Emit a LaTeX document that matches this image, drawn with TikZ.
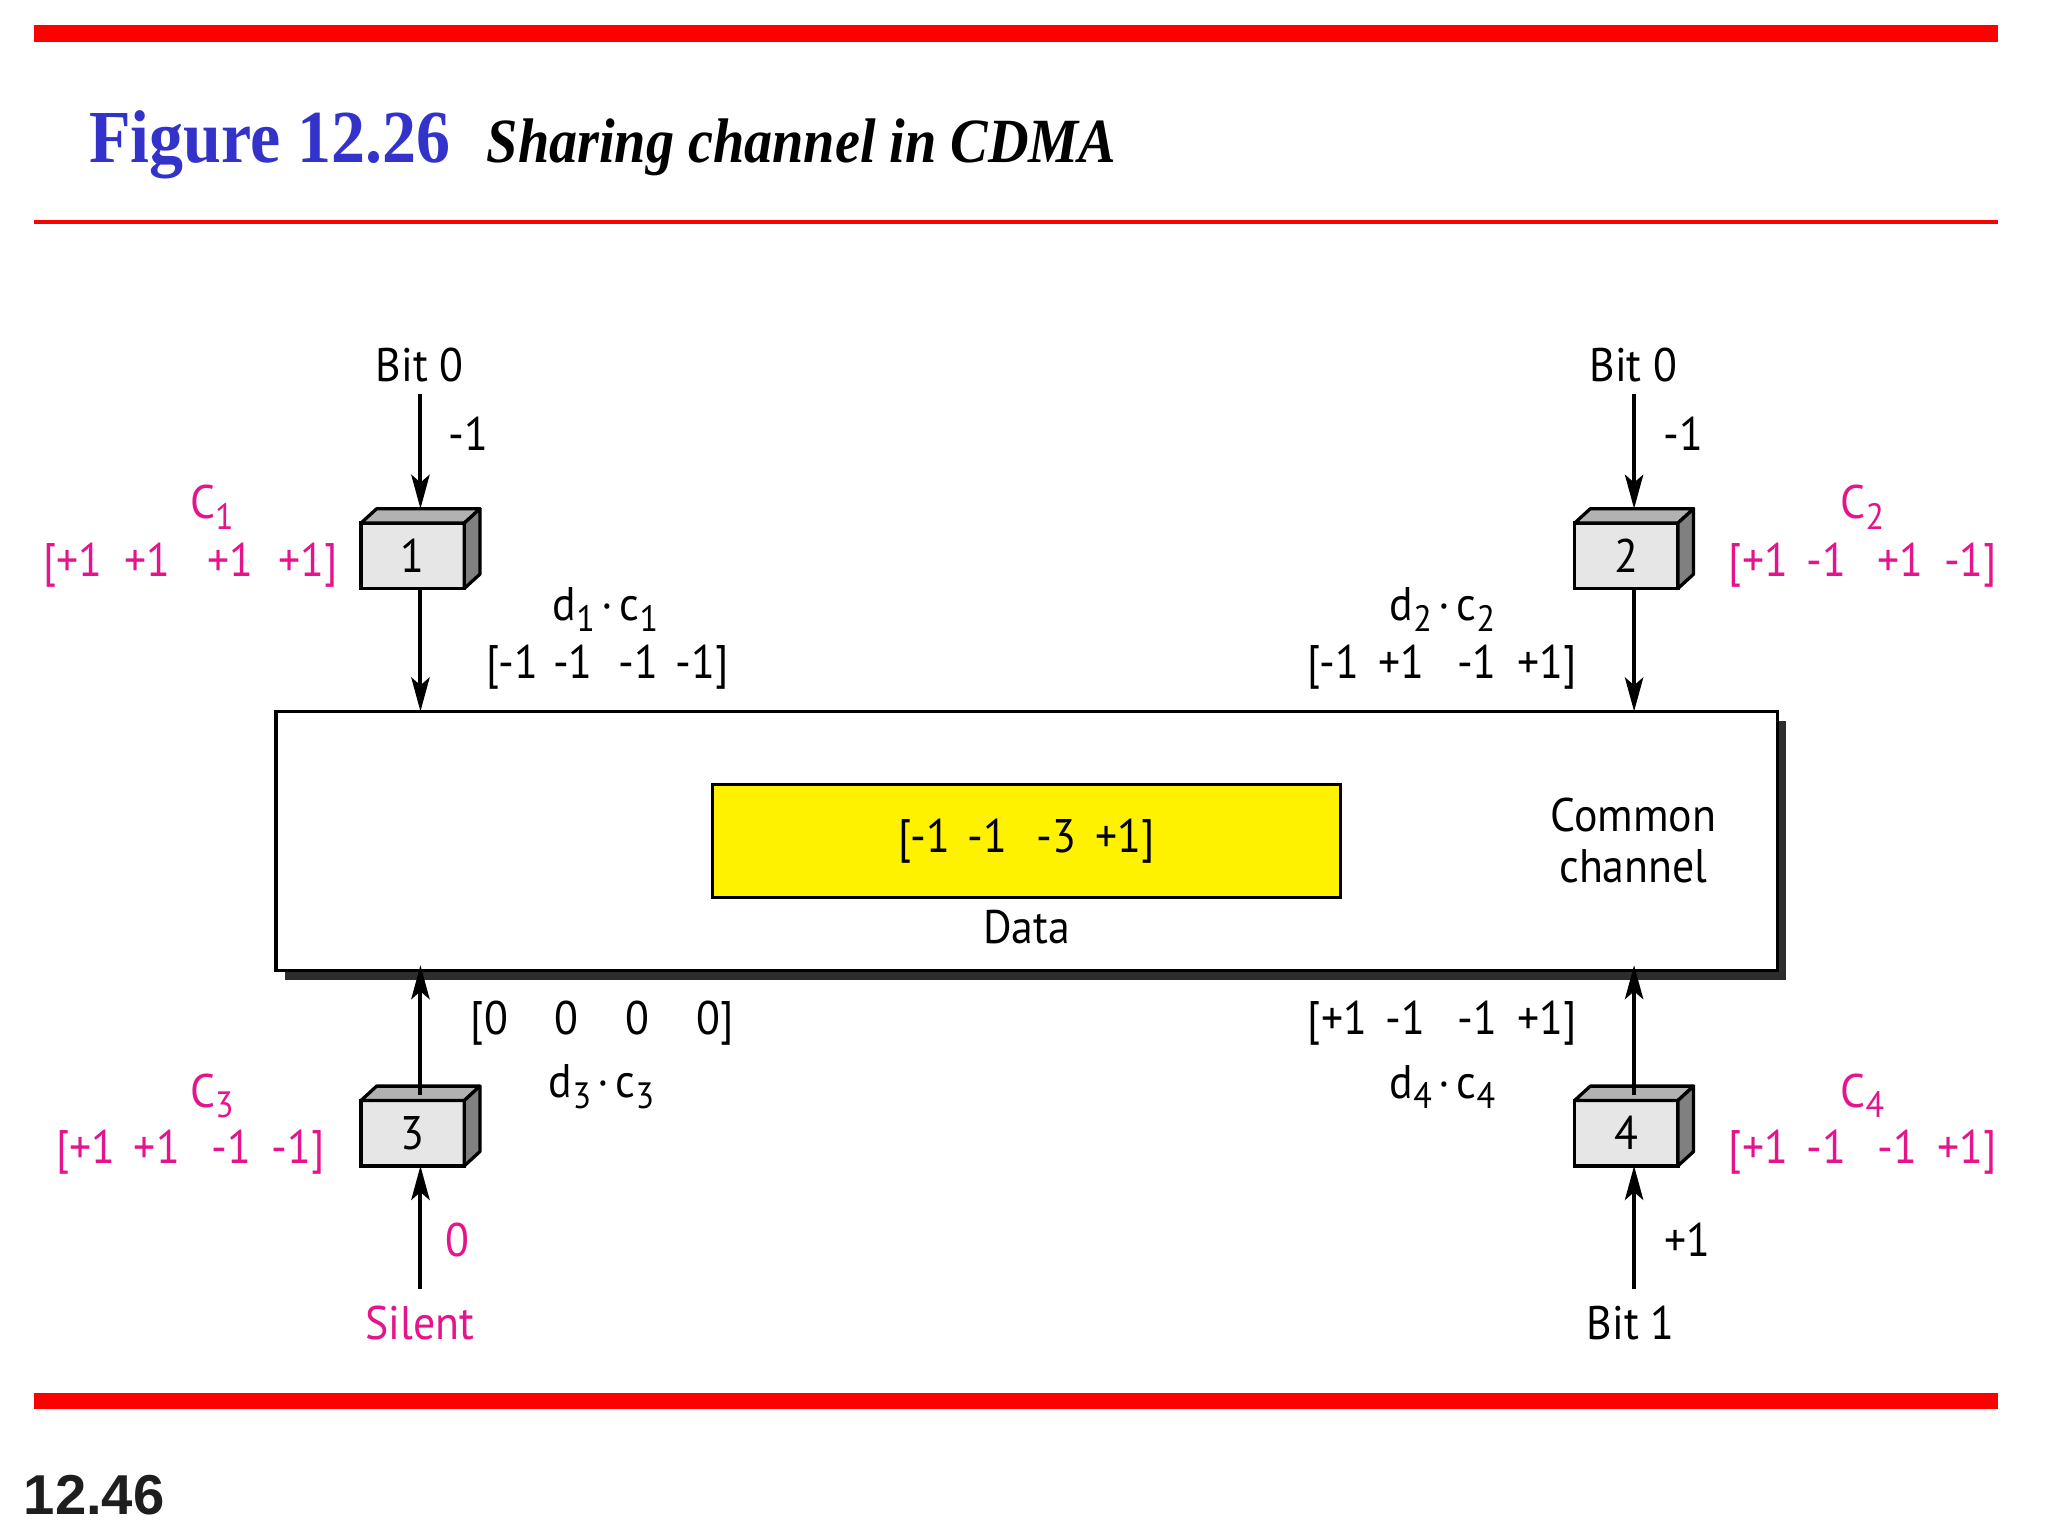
\documentclass[tikz,border=0pt]{standalone}
\usepackage{fontspec}
\usepackage{graphicx}
\setmainfont{PT Sans}[FakeStretch=0.93]
\newfontfamily\serifb{Liberation Serif}
\newfontfamily\arialb{Liberation Sans}
\usetikzlibrary{arrows.meta,calc}
\definecolor{pinkc}{RGB}{230,20,140}
\definecolor{figblue}{RGB}{51,51,204}
\definecolor{frontgray}{RGB}{230,230,230}
\definecolor{topgray}{RGB}{178,178,178}
\definecolor{sidegray}{RGB}{128,128,128}
\definecolor{shadowc}{RGB}{45,45,45}
\newcommand\dn[1]{\raisebox{-8pt}{\fontsize{28}{28}\selectfont #1}}
% vector of four entries stretched to a given width
\newcommand\vq[5]{\makebox[#1][s]{[#2\hspace{0pt plus 1fil}#3\hspace{0pt plus 1.7fil}#4\hspace{0pt plus 1.1fil}#5]}}
\newcommand\vz[1]{\makebox[#1][s]{[0\hspace{0pt plus 1fil}0\hspace{0pt plus 1fil}0\hspace{0pt plus 1fil}0]}}
\newcommand\dc[1]{d\dn{#1}\hspace{5pt}·\hspace{5pt}c\dn{#1}}
\begin{document}
\begin{tikzpicture}[x=1pt,y=-1pt,
  lbl/.style={font=\fontsize{36}{39}\selectfont, inner sep=0pt, outer sep=0pt},
  pk/.style={lbl, text=pinkc},
  arr/.style={line width=3pt, -{Stealth[length=26pt,width=14pt,inset=6pt]}},
  front/.style={draw, line width=2.5pt, fill=frontgray, minimum width=79pt, minimum height=50pt, inner sep=0pt, outer sep=0pt, font=\fontsize{36}{39}\selectfont},
  face/.style={draw, line width=2.5pt, line join=round}
]
\useasboundingbox[fill=white] (0,0) rectangle (1566,1174.5);
% red rules
\fill[red] (26,19) rectangle (1528,32);
\fill[red] (26,168) rectangle (1528,171);
\fill[red] (26,1065) rectangle (1528,1077);
% title
\node[anchor=base west, inner sep=0pt] (fig) at (68,124) {\scalebox{1}[1.1]{\fontsize{52}{60}\selectfont\serifb\bfseries\color{figblue}Figure 12.26}};
\node[anchor=base west, inner sep=0pt] (ttl) at (372,124) {\scalebox{1}[1.12]{\fontsize{43}{50}\selectfont\serifb\bfseries\itshape Sharing channel in CDMA}};
\node[anchor=base west, inner sep=0pt] (pg) at (18,1158) {\fontsize{43}{50}\selectfont\arialb\bfseries\color[RGB]{30,30,30}12.46};
% common channel
\fill[shadowc] (218,551) rectangle (1366,749);
\node[draw, line width=2.5pt, fill=white, minimum width=1148pt, minimum height=198pt, inner sep=0pt, outer sep=0pt] (ch) at (785,643) {};
\node[draw, line width=2.5pt, fill=yellow, minimum width=480pt, minimum height=86pt, lbl] (data) at (785,643) {\vq{196pt}{-1}{-1}{-3}{+1}};
\node[lbl] (datal) at (785,709) {Data};
\node[lbl, align=center] (cc) at (1249,643) {Common\\channel};
% cubes
\foreach \n/\cx/\cy in {1/315.5/425, 2/1243.5/425, 3/315.5/866.5, 4/1243.5/866.5}{
  \node[front] (b\n) at (\cx,\cy) {\n};
  \draw[face, fill=topgray] (b\n.north west) -- ++(12,-11) -- ++(79,0) -- (b\n.north east) -- cycle;
  \draw[face, fill=sidegray] (b\n.north east) -- ++(12,-11) -- ++(0,50) -- (b\n.south east) -- cycle;
}
\coordinate (b1in) at ($(b1.north)+(6,-11)$);
\coordinate (b2in) at ($(b2.north)+(6,-11)$);
\coordinate (b3top) at ($(b3.north)+(6,-4)$);
\coordinate (b4top) at ($(b4.north)+(6,-4)$);
% top labels
\node[lbl] (t1) at (321,279) {Bit 0};
\node[lbl] (t2) at (1249,279) {Bit 0};
\node[lbl] (m1) at (358,332) {-1};
\node[lbl] (m2) at (1287,332) {-1};
\node[pk] (c1) at (162,388) {C\dn{1}};
\node[pk] (v1) at (145.5,432) {\vq{225pt}{+1}{+1}{+1}{+1}};
\node[pk] (c2) at (1424,388) {C\dn{2}};
\node[pk] (v2) at (1424.5,432) {\vq{205pt}{+1}{-1}{+1}{-1}};
\node[lbl] (p1) at (463,466) {\dc{1}};
\node[lbl] (w1) at (464.5,510) {\vq{185pt}{-1}{-1}{-1}{-1}};
\node[lbl] (p2) at (1103,466) {\dc{2}};
\node[lbl] (w2) at (1103,510) {\vq{206pt}{-1}{+1}{-1}{+1}};
% bottom labels
\node[lbl] (w3) at (460.5,782) {\vz{201pt}};
\node[lbl] (p3) at (460,831) {\dc{3}};
\node[pk] (c3) at (162,838) {C\dn{3}};
\node[pk] (v3) at (145.5,881) {\vq{205pt}{+1}{+1}{-1}{-1}};
\node[lbl] (w4) at (1103,782) {\vq{206pt}{+1}{-1}{-1}{+1}};
\node[lbl] (p4) at (1103,831) {\dc{4}};
\node[pk] (c4) at (1424,838) {C\dn{4}};
\node[pk] (v4) at (1424.5,881) {\vq{205pt}{+1}{-1}{-1}{+1}};
\node[pk] (z3) at (350,948) {0};
\node[lbl] (z4) at (1290,948) {+1};
\node[pk] (s3) at (321,1012) {Silent};
\node[lbl] (s4) at (1247,1012) {Bit 1};
% arrows
\draw[arr, shorten <=9pt] (t1.south -| b1in) -- (b1in);
\draw[arr, shorten <=9pt] (t2.south -| b2in) -- (b2in);
\draw[arr] (b1.south -| b1in) -- (b1in |- ch.north);
\draw[arr] (b2.south -| b2in) -- (b2in |- ch.north);
\draw[arr, shorten >=-4pt] (b3top) -- (b3top |- ch.south);
\draw[arr, shorten >=-4pt] (b4top) -- (b4top |- ch.south);
\draw[arr, shorten <=13pt] (s3.north -| b3top) -- (b3.south -| b3top);
\draw[arr, shorten <=13pt] (s4.north -| b4top) -- (b4.south -| b4top);
\end{tikzpicture}
\end{document}
